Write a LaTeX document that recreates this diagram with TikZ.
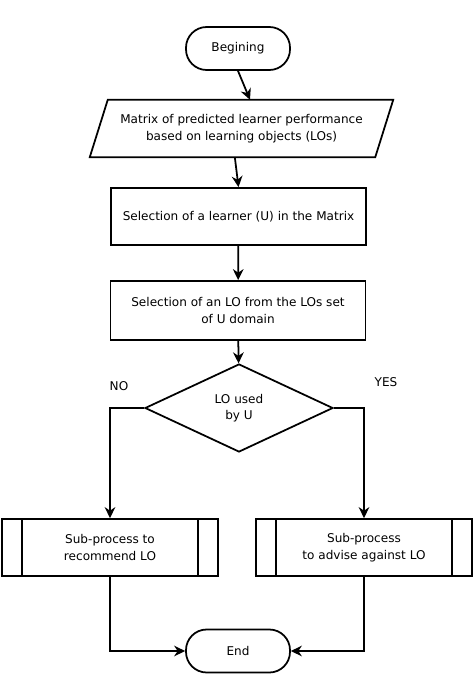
\documentclass[tikz,border=0pt]{standalone}
\usepackage{fontspec}
\setmainfont{DejaVu Sans}
\usetikzlibrary{arrows.meta,calc,shapes.geometric}

\tikzset{
  every node/.style={font=\fontsize{10.3}{14}\selectfont},
  terminal/.style={draw, line width=1.5pt, rounded corners=0.62cm,
    minimum width=3.12cm, minimum height=1.29cm},
  io/.style={minimum width=8.55cm, minimum height=1.71cm, align=center},
  process/.style={draw, line width=1.5pt, minimum width=7.65cm,
    minimum height=1.71cm, align=center},
  decision/.style={draw, diamond, line width=1.5pt, inner sep=0pt,
    minimum width=5.64cm, minimum height=2.64cm, align=center},
  subproc/.style={draw, line width=1.5pt, minimum width=6.5cm,
    minimum height=1.71cm, align=center},
  arr/.style={-{Stealth[length=0.33cm,width=0.32cm]}, line width=1.5pt},
  link/.style={line width=1.5pt}
}

\begin{document}
\begin{tikzpicture}[x=0.03cm, y=-0.03cm]
	\useasboundingbox (0,0) rectangle (474,699);
	
	% main column
	\node[terminal] (begin) at (238,48.5) {Begining};
	\node[io] (matrix) at (241.5,128.5) {Matrix of predicted learner performance\\based on learning objects (LOs)};
	\draw[link] ($(matrix.north west)+(9,0)$) -- ($(matrix.north east)+(9,0)$)
		-- ($(matrix.south east)+(-9,0)$) -- ($(matrix.south west)+(-9,0)$) -- cycle;
	\node[process] (learner) at (238.5,216.5) {Selection of a learner (U) in the Matrix};
	\node[process, minimum height=1.77cm] (lo) at (238,310.5) {Selection of an LO from the LOs set\\of U domain};
	\node[decision] (used) at (239,408) {LO used\\by U};
	
	\node (no) at (119,386) {NO};
	\node (yes) at (386,382) {YES};
	
	% the two branches
	\node[subproc] (recommend) at (110,547.5) {Sub-process to\\recommend LO};
	\node[subproc] (advise) at (364,547.5) {Sub-process\\to advise against LO};
	\foreach \n in {recommend,advise}{
		\draw[link] ($(\n.north west)+(21,0)$) -- ($(\n.south west)+(21,0)$);
		\draw[link] ($(\n.north east)+(-21,0)$) -- ($(\n.south east)+(-21,0)$);
	}
	
	\node[terminal] (finish) at (238,651) {End};
	
	% connectors
	\draw[arr] (begin.south) -- ([xshift=0.255cm]matrix.north);
	\draw[arr] ([xshift=-0.2cm]matrix.south) -- (learner.north);
	\draw[arr] (learner) -- (lo);
	\draw[arr] (lo) -- (used);
	\draw[arr] (used.west) -| (recommend.north);
	\draw[arr] (used.east) -| (advise.north);
	\draw[arr] (recommend.south) |- (finish.west);
	\draw[arr] (advise.south) |- (finish.east);
	
\end{tikzpicture}
\end{document}
